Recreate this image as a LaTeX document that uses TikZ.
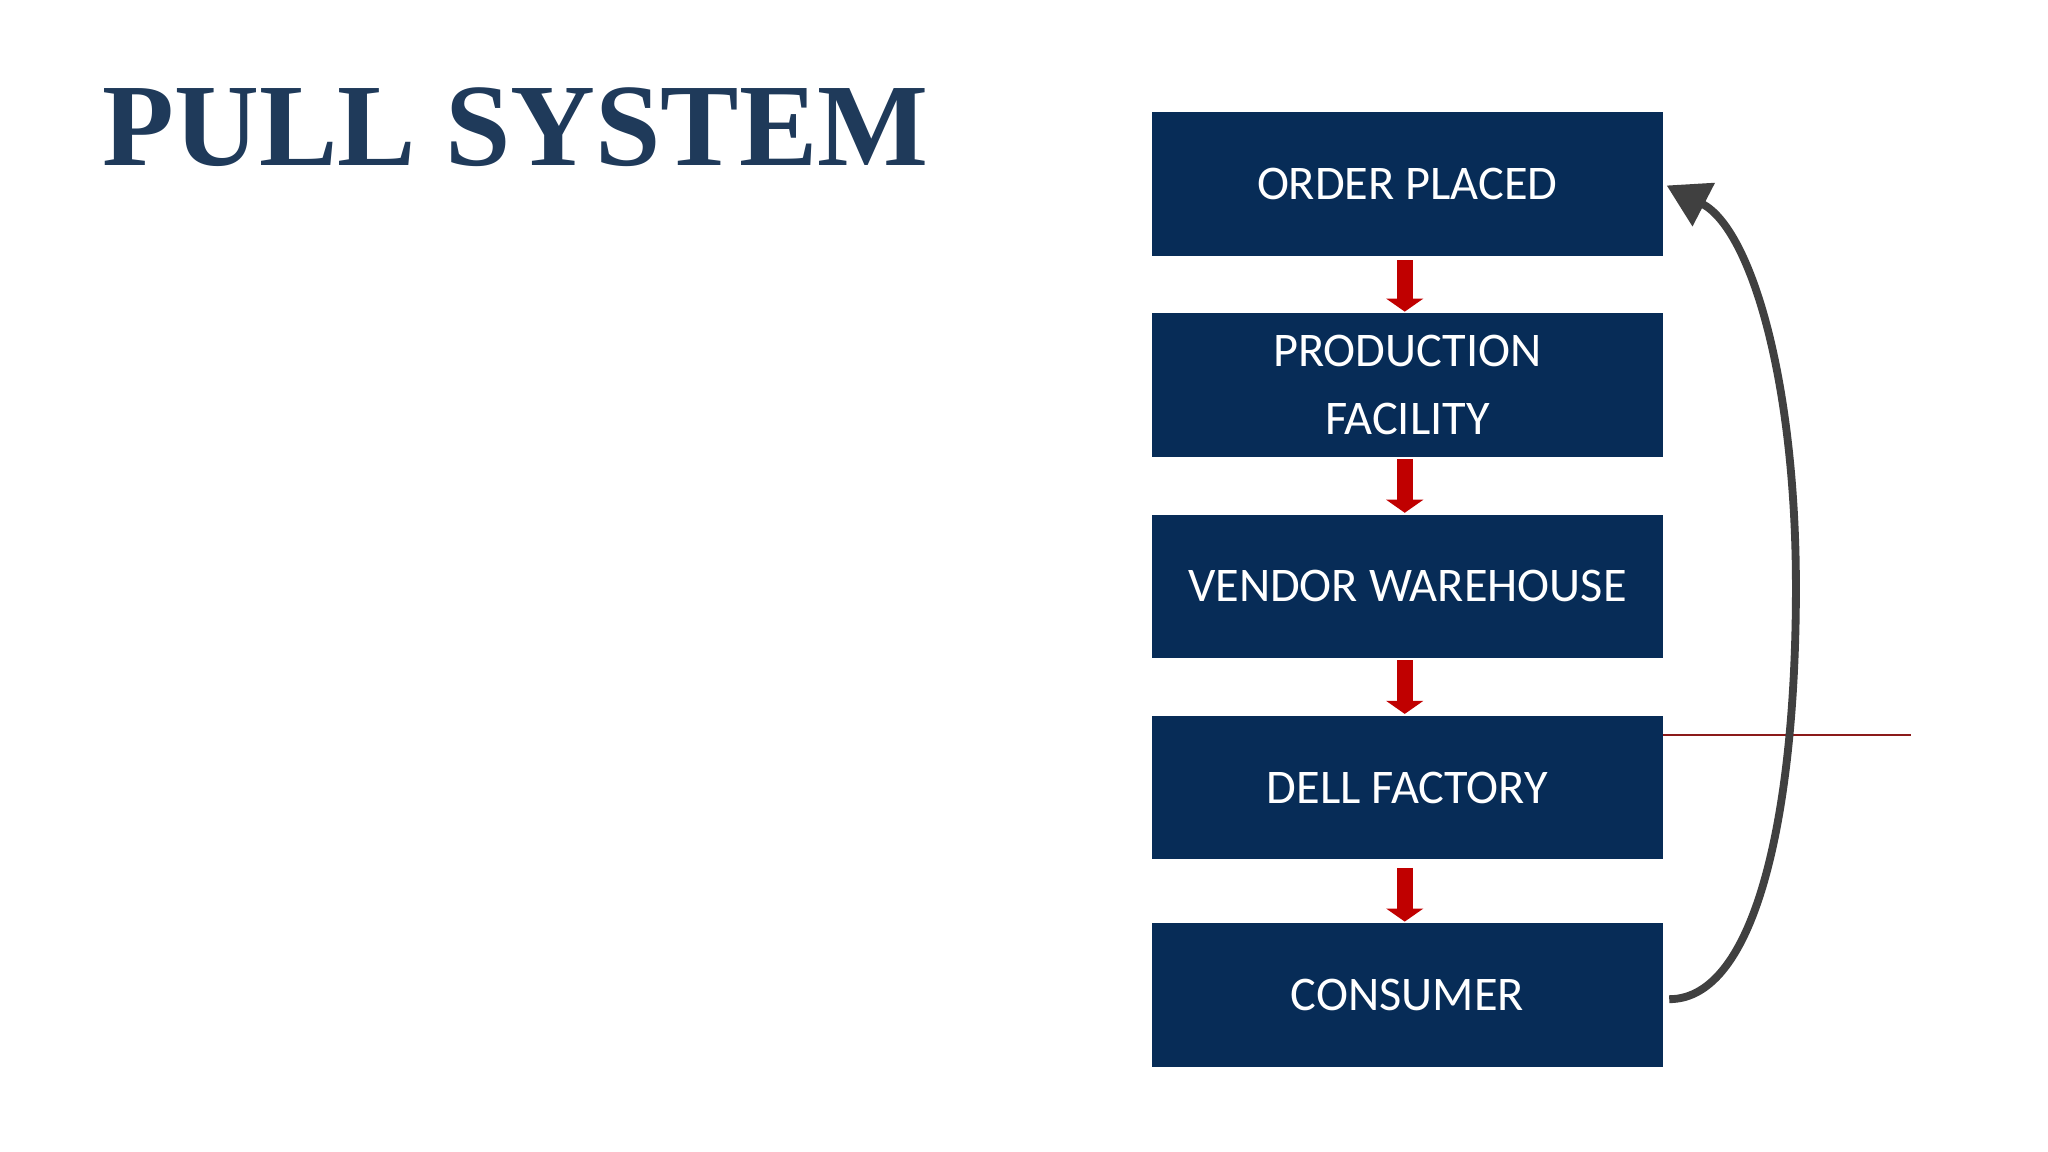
\documentclass[tikz,border=0pt]{standalone}
\usepackage{fontspec}
\setmainfont{Carlito}
\newfontfamily\titlefont{Liberation Serif}
\usetikzlibrary{arrows.meta}
\definecolor{navy}{HTML}{072C57}
\definecolor{titlec}{HTML}{1F3A5A}
\definecolor{redc}{HTML}{C00000}
\definecolor{grayc}{HTML}{404040}
\definecolor{linec}{HTML}{8B1A1A}
\tikzset{
 stepbox/.style={fill=navy,draw=none,minimum width=195.5pt,minimum height=55pt,text=white,font=\fontsize{18.5}{24}\selectfont,align=center,inner sep=0pt},
 redarr/.style={draw=redc,line width=6pt,-{Triangle[length=5pt,width=14pt]},shorten >=0.5pt},
}
\begin{document}
\begin{tikzpicture}[x=0.5pt,y=-0.5pt]
\useasboundingbox[fill=white] (0,0) rectangle (1568,882);
\node[anchor=west,text=titlec,font=\titlefont\bfseries\fontsize{45}{50}\selectfont,inner sep=0pt] (title) at (78,97) {PULL SYSTEM};
\node[stepbox] (a) at (1077.5,141) {ORDER PLACED};
\node[stepbox] (b) at (1077.5,295) {PRODUCTION\\[2pt]FACILITY};
\node[stepbox] (c) at (1077.5,449) {VENDOR WAREHOUSE};
\node[stepbox] (d) at (1077.5,603) {DELL FACTORY};
\node[stepbox] (e) at (1077.5,762) {CONSUMER};
\draw[redarr] ([xshift=-1pt,yshift=-1.5pt]a.south) -- ([xshift=-1pt]b.north);
\draw[redarr] ([xshift=-1pt,yshift=-0.5pt]b.south) -- ([xshift=-1pt]c.north);
\draw[redarr] ([xshift=-1pt,yshift=-0.5pt]c.south) -- ([xshift=-1pt]d.north);
\draw[redarr] ([xshift=-1pt,yshift=-3pt]d.south) -- ([xshift=-1pt]e.north);
\coordinate (lend) at (1463,563);
\draw[linec,line width=0.8pt] (1273,563) -- (lend);
\coordinate (s) at (1278,765);
\coordinate (t) at (1276,142);
\draw[grayc,line width=3pt,-{Triangle[length=16pt,width=18pt]}] (s) .. controls (1345,765) and (1375,620) .. (1375,450) .. controls (1375,290) and (1340,175) .. (t);
\end{tikzpicture}
\end{document}
